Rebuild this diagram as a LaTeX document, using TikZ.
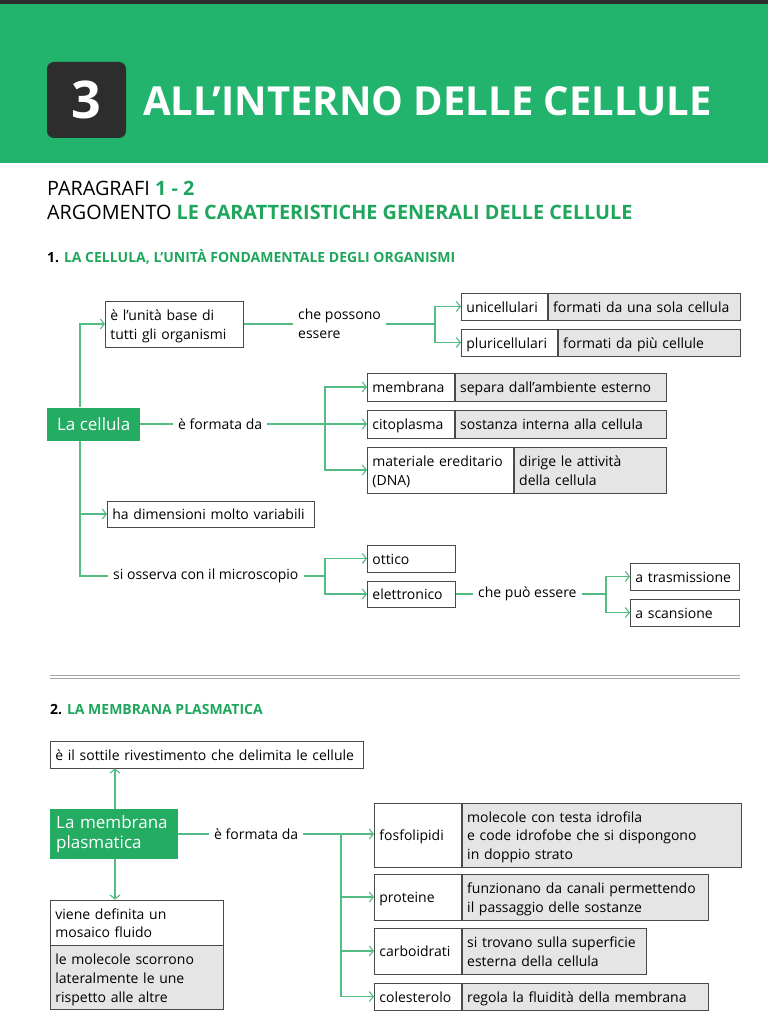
\documentclass[tikz,border=0pt]{standalone}
\usepackage{fontspec}
\setmainfont{Open Sans}
\usepackage{tikz}
\usetikzlibrary{positioning,arrows.meta,calc}
\definecolor{BandGreen}{HTML}{22B36D}
\definecolor{TitleGreen}{HTML}{1EA65C}
\definecolor{HubGreen}{HTML}{23AC62}
\definecolor{LinkGreen}{HTML}{52BC82}
\definecolor{DarkBox}{HTML}{2D2D2D}
\definecolor{BoxLine}{HTML}{4A4A4A}
\definecolor{DescGray}{HTML}{E5E5E5}
\definecolor{SepGray}{HTML}{A8A8A8}
\newcommand\bodyfont{\fontsize{14}{18.8}\selectfont\hyphenpenalty=10000\exhyphenpenalty=10000}
\newcommand\hubfont{\fontsize{17}{20}\selectfont\hyphenpenalty=10000}
\newcommand\headfont{\fontsize{19.8}{22}\selectfont}
\newcommand\secfont{\fontsize{14}{16}\selectfont\bfseries}

\begin{document}
\begin{tikzpicture}[x=1pt,y=-1pt,
  lbl/.style={draw=BoxLine, line width=0.8pt, fill=white, inner xsep=5pt, inner ysep=0pt, anchor=west, align=left, font=\bodyfont,
    execute at begin node={\rule{0pt}{17.5pt}}, execute at end node=\strut},
  dsc/.style={lbl, fill=DescGray},
  hub/.style={fill=HubGreen, text=white, inner xsep=6pt, inner ysep=0pt, anchor=west, align=left, font=\hubfont},
  txt/.style={inner sep=5pt, anchor=west, align=left, font=\bodyfont},
  lnk/.style={draw=LinkGreen, line width=1.1pt},
  arr/.style={lnk, -{Straight Barb[length=4pt,width=10pt]}}]
  \useasboundingbox (0,0) rectangle (768,1024);

  % Header band
  \fill[DarkBox] (0,0) rectangle (768,4);
  \fill[BandGreen] (0,4) rectangle (768,163);
  \node[fill=DarkBox, rounded corners=7pt, minimum width=79, minimum height=76, text=white, font=\fontsize{52}{52}\selectfont\bfseries] (num) at (86.5,100) {3};
  \node[anchor=west, inner sep=0pt, text=white, font=\fontsize{40}{40}\selectfont\bfseries] (title) at (143,101) {ALL’INTERNO DELLE CELLULE};
  \node[anchor=west, inner sep=0pt, font=\headfont] (par) at (47,188) {PARAGRAFI \textcolor{TitleGreen}{\bfseries 1 - 2}};
  \node[anchor=west, inner sep=0pt, font=\headfont] (arg) at (47,212) {ARGOMENTO \textcolor{TitleGreen}{\bfseries LE CARATTERISTICHE GENERALI DELLE CELLULE}};

  % Section 1
  \node[anchor=west, inner sep=0pt, font=\secfont] (sec1) at (47,257) {1. \textcolor{TitleGreen}{LA CELLULA, L’UNITÀ FONDAMENTALE DEGLI ORGANISMI}};

  \node[hub, minimum width=93, minimum height=33] (cellula) at (47,424) {La cellula};
  \node[lbl, text width=128, minimum height=46] (unita) at (105,324) {è l’unità base di\\tutti gli organismi};
  \node[txt] (possono) at (293,324) {che possono\\essere};
  \node[lbl, text width=76, minimum height=27] (uni) at (461,306.5) {unicellulari};
  \node[dsc, text width=182, minimum height=27, right=0pt of uni] (unid) {formati da una sola cellula};
  \node[lbl, text width=86, minimum height=27] (pluri) at (461,342.5) {pluricellulari};
  \node[dsc, text width=172, minimum height=27, right=0pt of pluri] (plurid) {formati da più cellule};

  \node[txt] (formata1) at (173,424) {è formata da};
  \node[lbl, text width=77, minimum height=28] (membrana) at (367,387) {membrana};
  \node[dsc, text width=201, minimum height=28, right=0pt of membrana] (membranad) {separa dall’ambiente esterno};
  \node[lbl, text width=77, minimum height=28] (citopl) at (367,424) {citoplasma};
  \node[dsc, text width=201, minimum height=28, right=0pt of citopl] (citopld) {sostanza interna alla cellula};
  \node[lbl, text width=136, minimum height=46] (dna) at (367,470) {materiale ereditario\\(DNA)};
  \node[dsc, text width=142, minimum height=46, right=0pt of dna] (dnad) {dirige le attività\\della cellula};

  \node[lbl, text width=197, minimum height=26] (dimens) at (107,514) {ha dimensioni molto variabili};

  \node[txt] (osserva) at (108,576) {si osserva con il microscopio};
  \node[lbl, text width=78, minimum height=27] (ottico) at (367,558.5) {ottico};
  \node[lbl, text width=78, minimum height=26] (elettr) at (367,594) {elettronico};
  \node[txt] (puo) at (473,594) {che può essere};
  \node[lbl, text width=99, minimum height=27] (trasm) at (630,576.5) {a trasmissione};
  \node[lbl, text width=99, minimum height=27] (scans) at (630,612.5) {a scansione};

  % Section 1 links
  \coordinate (sp) at (80,424);
  \coordinate (b1) at (435,324);
  \coordinate (b2) at (325,424);
  \coordinate (b3) at (325,576);
  \coordinate (b4) at (606,594);
  \draw[arr] (sp |- cellula.north) |- (unita);
  \draw[arr] (sp |- cellula.south) |- (dimens);
  \draw[lnk] (sp |- cellula.south) |- (osserva);
  \draw[lnk] (unita) -- (possono);
  \draw[lnk] (possono) -- (b1);
  \draw[arr] (b1) |- (uni);
  \draw[arr] (b1) |- (pluri);
  \draw[lnk] (cellula) -- (formata1);
  \draw[arr] (formata1) -- (citopl);
  \draw[arr] (b2) |- (membrana);
  \draw[arr] (b2) |- (dna);
  \draw[lnk] (osserva) -- (b3);
  \draw[arr] (b3) |- (ottico);
  \draw[arr] (b3) |- (elettr);
  \draw[lnk] (elettr) -- (puo);
  \draw[lnk] (puo) -- (b4);
  \draw[arr] (b4) |- (trasm);
  \draw[arr] (b4) |- (scans);

  % Separator
  \draw[SepGray, line width=0.8pt] (50,675.5) -- (740,675.5);
  \draw[SepGray, line width=0.8pt] (50,678.5) -- (740,678.5);

  % Section 2
  \node[anchor=west, inner sep=0pt, font=\secfont] (sec2) at (50,710) {2. \textcolor{TitleGreen}{LA MEMBRANA PLASMATICA}};

  \node[lbl, text width=303, minimum height=27] (riv) at (50,754.5) {è il sottile rivestimento che delimita le cellule};
  \node[hub, text width=116, minimum height=50] (membr) at (50,834) {La membrana\\plasmatica};
  \node[lbl, text width=163, minimum height=45] (mosaico) at (50,922.5) {viene definita un\\mosaico fluido};
  \node[dsc, text width=163, minimum height=64, anchor=north west] (mosaicod) at (mosaico.south west) {le molecole scorrono\\lateralmente le une\\rispetto alle altre};

  \node[txt] (formata2) at (209,834) {è formata da};
  \node[lbl, text width=77, minimum height=64] (fosfo) at (374,835) {fosfolipidi};
  \node[dsc, text width=269, minimum height=64, right=0pt of fosfo] (fosfod) {molecole con testa idrofila\\e code idrofobe che si dispongono\\in doppio strato};
  \node[lbl, text width=77, minimum height=46] (prot) at (374,897) {proteine};
  \node[dsc, text width=236, minimum height=46, right=0pt of prot] (protd) {funzionano da canali permettendo\\il passaggio delle sostanze};
  \node[lbl, text width=77, minimum height=46] (carbo) at (374,951) {carboidrati};
  \node[dsc, text width=174, minimum height=46, right=0pt of carbo] (carbod) {si trovano sulla superficie\\esterna della cellula};
  \node[lbl, text width=77, minimum height=27] (coles) at (374,996.5) {colesterolo};
  \node[dsc, text width=236, minimum height=27, right=0pt of coles] (colesd) {regola la fluidità della membrana};

  % Section 2 links
  \coordinate (ax) at (115,834);
  \coordinate (b5) at (341,834);
  \draw[arr] (ax |- membr.north) -- (ax |- riv.south);
  \draw[arr] (ax |- membr.south) -- (ax |- mosaico.north);
  \draw[lnk] (membr) -- (formata2);
  \draw[arr] (formata2) -- (formata2 -| fosfo.west);
  \draw[arr] (b5) |- (prot);
  \draw[arr] (b5) |- (carbo);
  \draw[arr] (b5) |- (coles);
\end{tikzpicture}
\end{document}
